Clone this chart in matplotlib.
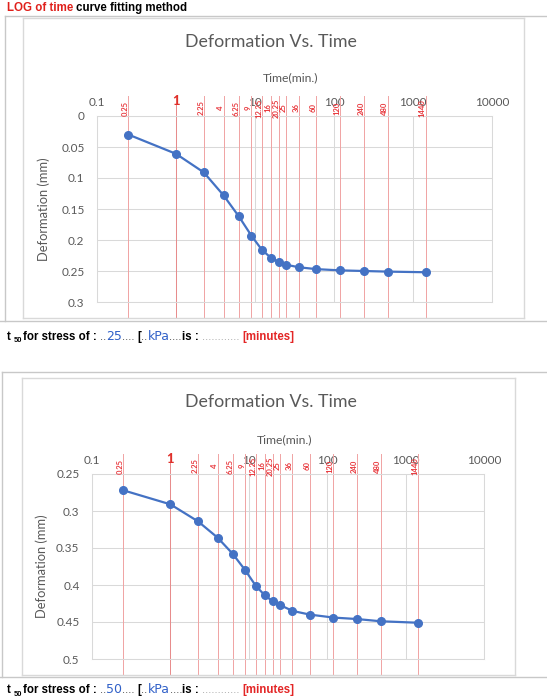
import matplotlib
matplotlib.use("Agg")
import matplotlib.pyplot as plt
import matplotlib.transforms as mtransforms
from matplotlib.lines import Line2D
from matplotlib.ticker import NullLocator

plt.rcParams['font.family'] = ['Lato', 'DejaVu Sans']

# readings (time in minutes, deformation in mm)
times = [0.25, 1, 2.25, 4, 6.25, 9, 12.25, 16, 20.25, 25, 36, 60, 120, 240, 480, 1440]
time_labels = ["0.25", "1", "2.25", "4", "6.25", "9", "12.25", "16", "20.25",
               "25", "36", "60", "120", "240", "480", "1440"]
def_25kpa = [0.030, 0.061, 0.091, 0.128, 0.162, 0.193, 0.216, 0.229, 0.236,
             0.240, 0.244, 0.247, 0.249, 0.250, 0.251, 0.252]
def_50kpa = [0.272, 0.291, 0.314, 0.336, 0.358, 0.380, 0.401, 0.414, 0.422,
             0.427, 0.435, 0.440, 0.444, 0.446, 0.449, 0.451]
yticks_1 = [0, 0.05, 0.1, 0.15, 0.2, 0.25, 0.3]
yticks_2 = [0.25, 0.3, 0.35, 0.4, 0.45, 0.5]
xticks = [0.1, 1, 10, 100, 1000, 10000]
xtick_labels = ["0.1", "", "10", "100", "1000", "10000"]

W, H = 547, 700
fig = plt.figure(figsize=(W / 100, H / 100), dpi=100)
renderer = fig.canvas.get_renderer()


def fx(x):
    return x / W


def fy(y):
    return 1 - y / H


def hline(x0, x1, y, color='#c8c8c8'):
    fig.add_artist(Line2D([fx(x0), fx(x1)], [fy(y), fy(y)], transform=fig.transFigure, color=color, lw=1))


def vline(x, y0, y1, color='#c8c8c8'):
    fig.add_artist(Line2D([fx(x), fx(x)], [fy(y0), fy(y1)], transform=fig.transFigure, color=color, lw=1))


def frame(l, t, r, b, color='#d9d9d9'):
    hline(l, r, t, color); hline(l, r, b, color)
    vline(l, t, b, color); vline(r, t, b, color)


def write_run(x, y, parts):
    for s, kw in parts:
        if s == " ":
            x += 3
            continue
        t = fig.text(fx(x), fy(y), s, va='baseline', ha='left', **kw)
        bb = t.get_window_extent(renderer)
        x += bb.width


def draw_chart(l, t, r, b, ydata, yticks, ylab_x, title_y, tmin_xy):
    ax = fig.add_axes([fx(l), fy(b), fx(r) - fx(l), fy(t) - fy(b)])
    ax.set_xscale('log')
    ax.set_xlim(0.1, 10000)
    ax.set_ylim(yticks[-1], yticks[0])
    ax.set_xticks(xticks)
    ax.set_xticklabels(xtick_labels)
    ax.xaxis.set_minor_locator(NullLocator())
    ax.xaxis.tick_top()
    ax.set_yticks(yticks)
    ax.set_yticklabels([('%g' % v) for v in yticks])
    ax.tick_params(axis='both', length=0, labelsize=8.5, labelcolor='#595959')
    ax.tick_params(axis='x', pad=6)
    ax.tick_params(axis='y', pad=9)
    ax.grid(True, color='#d9d9d9', lw=0.75)
    ax.set_axisbelow(True)
    for s in ax.spines.values():
        s.set_color('#d9d9d9')
        s.set_linewidth(0.75)

    blend = mtransforms.blended_transform_factory(ax.transData, ax.transAxes)
    lab_tr = mtransforms.offset_copy(blend, fig=fig, x=-3, y=8, units='dots')
    one_tr = mtransforms.offset_copy(blend, fig=fig, x=0, y=15, units='dots')
    for tm, lab in zip(times, time_labels):
        c = '#f0a3a3' if tm != 1 else '#e88a8a'
        ax.axvline(tm, ymin=-0.086, ymax=1.11, clip_on=False, color=c, lw=0.7, zorder=1)
        if lab == "1":
            ax.text(tm, 1, lab, transform=one_tr, ha='center', va='center',
                    fontsize=9.5, fontweight='bold', color='#e0302a', clip_on=False)
        else:
            ax.text(tm, 1, lab, transform=lab_tr, rotation=90, ha='center', va='center',
                    fontsize=5.5, fontweight='bold', color='#e8383d', clip_on=False)

    ax.plot(times, ydata, '-o', color='#4472c4', lw=1.6, ms=5.5, zorder=3)

    ax.set_ylabel('Deformation (mm)', fontsize=9.3, color='#595959')
    ax.yaxis.set_label_coords((ylab_x - l) / (r - l), 0.5)
    fig.text(fx(271), fy(title_y), 'Deformation Vs. Time', ha='center', va='center',
             fontsize=12.8, color='#595959')
    fig.text(fx(tmin_xy[0]), fy(tmin_xy[1]), 'Time(min.)', ha='center', va='center',
             fontsize=8.8, color='#595959')
    return ax


# header
write_run(7, 11, [
    ("LOG of time", dict(color='#e0201b', fontweight='bold', fontsize=8.3, family='Liberation Sans')),
    (" ", {}),
    ("curve fitting method", dict(color='black', fontweight='bold', fontsize=8.3, family='Liberation Sans')),
])

# chart 1
hline(5, 547, 16)
hline(0, 547, 321)
vline(5, 16, 321)
frame(23, 18, 524, 318)
draw_chart(97, 116, 492, 302, def_25kpa, yticks_1, 50, 42, (291, 78))

# chart 2
hline(2, 547, 372)
hline(0, 547, 677)
vline(2, 372, 677)
frame(22, 378, 515, 675)
draw_chart(92, 474, 484, 659, def_50kpa, yticks_2, 48, 402, (285, 440))


def t50_line(y, stress, unit):
    bold = dict(color='black', fontweight='bold', fontsize=8.3, family='Liberation Sans')
    sub = dict(color='black', fontweight='bold', fontsize=5.5, family='Liberation Sans')
    dots = dict(color='#555555', fontsize=8.3, family='Liberation Sans')
    ldots = dict(color='#aaaaaa', fontsize=8.3, family='Liberation Sans')
    hand = dict(color='#3060c8', fontsize=9, family='DejaVu Sans')
    red = dict(color='#e32626', fontweight='bold', fontsize=8.3, family='Liberation Sans')
    write_run(7, y, [("t", bold)])
    fig.text(fx(13.5), fy(y + 2.5), "50", va='baseline', ha='left', **sub)
    write_run(23, y, [
        ("for stress of :", bold), (" ", {}),
        ("..", dots), (stress, hand), ("....", dots), (" ", {}),
        ("[", bold), ("..", dots), (unit, hand), ("....", dots),
        ("is :", bold), (" ", {}),
        ("............", ldots), (" ", {}),
        ("[minutes]", red),
    ])


t50_line(340, "25", "kPa")
t50_line(693, "50", "kPa")

fig.savefig("out.png", dpi=100)
